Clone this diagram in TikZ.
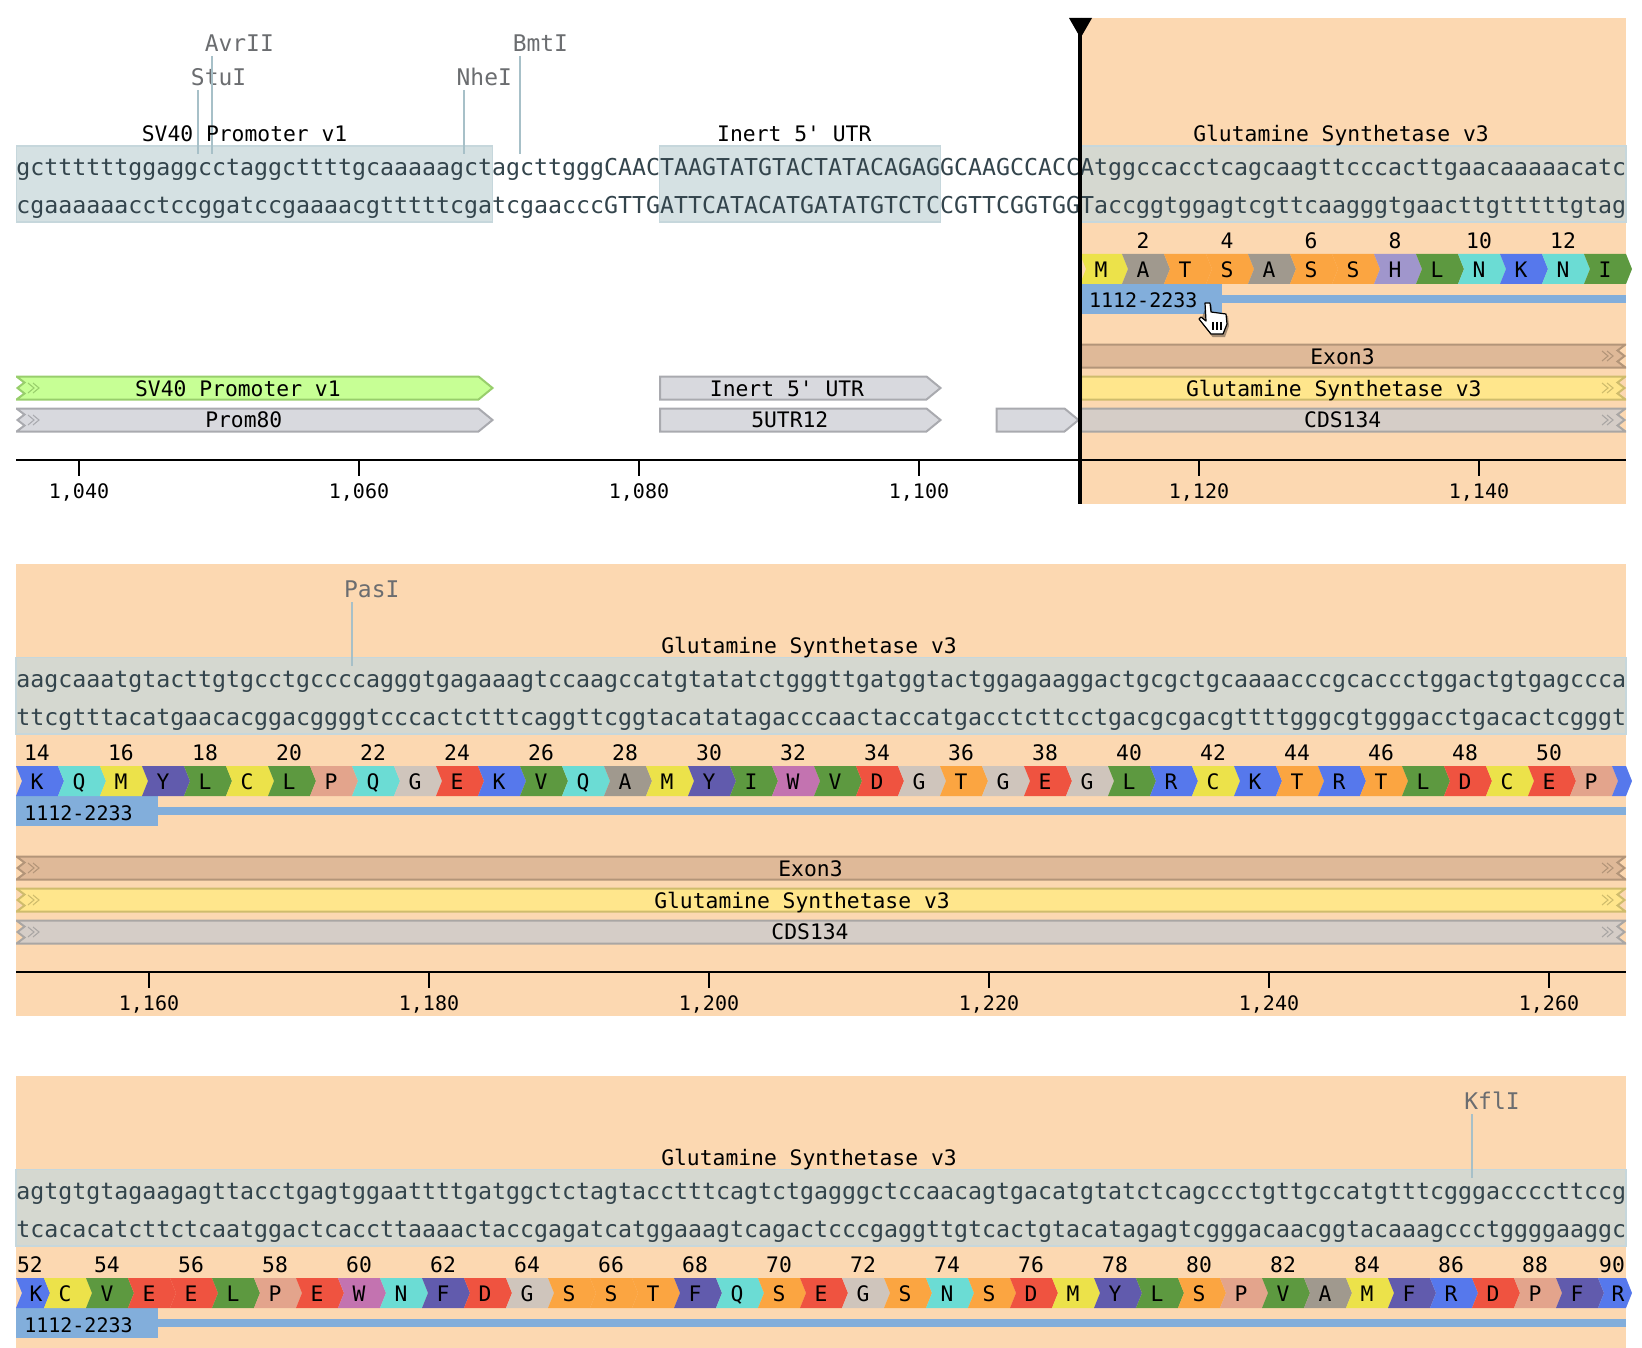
\documentclass[tikz,border=0pt]{standalone}
\usepackage{fontspec}
\usetikzlibrary{positioning}
\newfontfamily\dnafont{DejaVu Sans Mono}
\definecolor{mypeach}{HTML}{FCD8B1}
\definecolor{myboxw}{HTML}{D5E1E3}
\definecolor{myboxp}{HTML}{D5D8D0}
\definecolor{myboxline}{HTML}{C6D7DC}
\definecolor{mysite}{HTML}{A7C0C8}
\definecolor{myseq}{HTML}{33444C}
\definecolor{myenz}{HTML}{6B6D70}
\definecolor{myrange}{HTML}{82AEDB}
\definecolor{aaM}{HTML}{ECE24A}
\definecolor{aaC}{HTML}{ECE24A}
\definecolor{aaA}{HTML}{A0998E}
\definecolor{aaT}{HTML}{FBA541}
\definecolor{aaS}{HTML}{FBA541}
\definecolor{aaH}{HTML}{A096CC}
\definecolor{aaL}{HTML}{5D9940}
\definecolor{aaV}{HTML}{5D9940}
\definecolor{aaI}{HTML}{5D9940}
\definecolor{aaN}{HTML}{6BDCD4}
\definecolor{aaQ}{HTML}{6BDCD4}
\definecolor{aaK}{HTML}{5678EC}
\definecolor{aaR}{HTML}{5678EC}
\definecolor{aaY}{HTML}{615BAD}
\definecolor{aaF}{HTML}{615BAD}
\definecolor{aaP}{HTML}{E3A48C}
\definecolor{aaG}{HTML}{CFC5BC}
\definecolor{aaE}{HTML}{EF5340}
\definecolor{aaD}{HTML}{EF5340}
\definecolor{aaW}{HTML}{C373B0}
\tikzset{
  seqtext/.style={font=\dnafont\fontsize{17.44}{20}\selectfont, text=myseq, inner sep=0pt, anchor=base west},
  lbltext/.style={font=\dnafont\fontsize{16}{20}\selectfont, text=black, inner sep=0pt, anchor=base},
  enztext/.style={font=\dnafont\fontsize{17.2}{20}\selectfont, text=myenz, inner sep=0pt, anchor=base},
  ticktext/.style={font=\dnafont\fontsize{15}{18}\selectfont, text=black, inner sep=0pt, anchor=base},
  rangetext/.style={font=\dnafont\fontsize{15}{18}\selectfont, text=black, inner sep=0pt, anchor=base west},
  siteline/.style={draw=mysite, line width=1.1pt},
  axisline/.style={draw=black, line width=1.5pt},
  seqboxw/.style={draw=myboxline, fill=myboxw, line width=1.1pt},
  seqboxp/.style={draw=myboxline, fill=myboxp, line width=1.1pt},
  featgreen/.style={draw=featgreenl, fill=featgreenf, line width=1.5pt},
  featgray/.style={draw=featgrayl, fill=featgrayf, line width=1.5pt},
  featexon/.style={draw=featexonl, fill=featexonf, line width=1.5pt},
  featgln/.style={draw=featglnl, fill=featglnf, line width=1.5pt},
  featcds/.style={draw=featcdsl, fill=featcdsf, line width=1.5pt},
}
\definecolor{featgreenf}{HTML}{C7FF95}
\definecolor{featgreenl}{HTML}{98CE6C}
\definecolor{featgrayf}{HTML}{D8D9DE}
\definecolor{featgrayl}{HTML}{A9AAAF}
\definecolor{featexonf}{HTML}{DFB998}
\definecolor{featexonl}{HTML}{B39579}
\definecolor{featglnf}{HTML}{FFE68C}
\definecolor{featglnl}{HTML}{CFBC6C}
\definecolor{featcdsf}{HTML}{D5CDC7}
\definecolor{featcdsl}{HTML}{A9A6A4}

% one amino acid row: first residue, left edge, top, letters
\newcommand{\aarow}[4]{
  \foreach \res [count=\k from 0] in {#4} {
    \pgfmathsetmacro{\xa}{#2+42*\k}
    \pgfmathtruncatemacro{\num}{#1+\k}
    \path[fill=aa\res] (\xa,#3) -- (\xa+42,#3) -- (\xa+48,#3+15) -- (\xa+42,#3+30) -- (\xa,#3+30) -- (\xa+6,#3+15) -- cycle;
    \node[lbltext] (aa\num) at (\xa+21,#3+23.3) {\res};
    \ifodd\num\else\node[lbltext] (num\num) at (\xa+21,#3-5.7) {\num};\fi
  }
}
% two small chevrons: left end, middle, colour
\newcommand{\chevrons}[3]{
  \draw[#3, line width=0.8pt] (#1,#2-5) -- (#1+6,#2) -- (#1,#2+5);
  \draw[#3, line width=0.8pt] (#1+5,#2-5) -- (#1+11,#2) -- (#1+5,#2+5);
}
% feature bars: style, left, right, top
\newcommand{\featzigtip}[4]{
  \draw[#1] (#2,#4) -- (#3-14,#4) -- (#3,#4+11.5) -- (#3-14,#4+23) -- (#2,#4+23) -- (#2+8,#4+17) -- (#2+1,#4+11.5) -- (#2+8,#4+6) -- cycle;
}
\newcommand{\featflattip}[4]{
  \draw[#1] (#2,#4) -- (#3-14,#4) -- (#3,#4+11.5) -- (#3-14,#4+23) -- (#2,#4+23) -- cycle;
}
\newcommand{\featflatzig}[4]{
  \draw[#1] (#2,#4) -- (#3,#4) -- (#3-8,#4+6) -- (#3-1,#4+11.5) -- (#3-8,#4+17) -- (#3,#4+23) -- (#2,#4+23) -- cycle;
}
\newcommand{\featzigzig}[4]{
  \draw[#1] (#2,#4) -- (#3,#4) -- (#3-8,#4+6) -- (#3-1,#4+11.5) -- (#3-8,#4+17) -- (#3,#4+23) -- (#2,#4+23) -- (#2+8,#4+17) -- (#2+1,#4+11.5) -- (#2+8,#4+6) -- cycle;
}

\begin{document}
\begin{tikzpicture}[x=0.75pt, y=-0.75pt]
\useasboundingbox (0,0) rectangle (1642,1348);

% Peach selection
\fill[mypeach] (1081,18) rectangle (1626,503.5);
\fill[mypeach] (16,564) rectangle (1626,1015.5);
\fill[mypeach] (16,1075.5) rectangle (1626,1348);

% Row 1 sequence boxes
\draw[seqboxw] (16.5,146) rectangle (492.5,222);
\draw[seqboxw] (659.5,146) rectangle (940.5,222);
\draw[seqboxp] (1081,146) rectangle (1626,222);

% Row 1 sequence
\node[seqtext] (top1) at (16,175.7) {gcttttttggaggcctaggcttttgcaaaaagctagcttgggCAACTAAGTATGTACTATACAGAGGCAAGCCACCAtggccacctcagcaagttcccacttgaacaaaaacatc};
\node[seqtext] (bot1) at (16,213.5) {cgaaaaaacctccggatccgaaaacgtttttcgatcgaacccGTTGATTCATACATGATATGTCTCCGTTCGGTGGTaccggtggagtcgttcaagggtgaacttgtttttgtag};

% Row 1 enzymes
\node[enztext] (avrii) at (239.3,51.5) {AvrII};
\node[enztext] (stui) at (218.6,85.5) {StuI};
\node[enztext] (nhei) at (484.3,85.5) {NheI};
\node[enztext] (bmti) at (540.4,51.5) {BmtI};
\coordinate (stuitop) at (198,90);
\coordinate (stuibot) at (198,153.7);
\coordinate (avriitop) at (212,56);
\coordinate (avriibot) at (212,153.7);
\coordinate (nheitop) at (464,90);
\coordinate (nheibot) at (464,153.7);
\coordinate (bmtitop) at (520,56);
\coordinate (bmtibot) at (520,153.7);
\draw[siteline] (stuitop) -- (stuibot);
\draw[siteline] (avriitop) -- (avriibot);
\draw[siteline] (nheitop) -- (nheibot);
\draw[siteline] (bmtitop) -- (bmtibot);

% Row 1 box titles
\node[lbltext] (sv40title) at (244.6,141.7) {SV40 Promoter v1};
\node[lbltext] (inerttitle) at (794.3,141.7) {Inert 5' UTR};
\node[lbltext] (glntitle1) at (1341,141.7) {Glutamine Synthetase v3};

% Row 1 translation
\fill[myrange] (1081,283.7) rectangle (1221.6,314);
\fill[myrange] (1221,295) rectangle (1626,303);
\node[rangetext] (range1) at (1088.8,308) {1112-2233};
\aarow{1}{1080}{254}{M,A,T,S,A,S,S,H,L,N,K,N,I}

% Row 1 features
\begin{scope}
\clip (16,330) rectangle (1626,440);
\featzigtip{featgreen}{16.5}{492.5}{376.5}
\chevrons{28}{388}{featgreenl}
\node[lbltext] (sv40feat) at (237.9,396) {SV40 Promoter v1};
\featzigtip{featgray}{16.5}{492.5}{408.5}
\chevrons{28}{420}{featgrayl}
\node[lbltext] (prom80) at (243.8,427.7) {Prom80};
\featflattip{featgray}{660}{940.5}{376.5}
\node[lbltext] (inertfeat) at (787,396) {Inert 5' UTR};
\featflattip{featgray}{660}{940.5}{408.5}
\node[lbltext] (utr12) at (789.8,427.7) {5UTR12};
\featflattip{featgray}{996.5}{1078.5}{408.5}
\featflatzig{featexon}{1081}{1625.5}{344.5}
\chevrons{1602}{356}{featexonl}
\node[lbltext] (exon1) at (1342.5,364) {Exon3};
\featflatzig{featgln}{1081}{1625.5}{376.5}
\chevrons{1602}{388}{featglnl}
\node[lbltext] (glnfeat1) at (1333.8,396) {Glutamine Synthetase v3};
\featflatzig{featcds}{1081}{1625.5}{408.5}
\chevrons{1602}{420}{featcdsl}
\node[lbltext] (cds1) at (1342.7,427.7) {CDS134};
\end{scope}

% Row 1 axis
\coordinate (axisa1) at (16,460);
\coordinate (axisb1) at (1626,460);
\draw[axisline] (axisa1) -- (axisb1);
\foreach \lab/\xt in {{1,040}/79,{1,060}/359,{1,080}/639,{1,100}/919,{1,120}/1199,{1,140}/1479} {
  \draw[axisline] (\xt,460) -- (\xt,475.7);
  \node[ticktext] (tick\xt) at (\xt,498.5) {\lab};
}

% Cursor
\coordinate (cursortop) at (1080,18);
\coordinate (cursorbot) at (1080,503.5);
\draw[black, line width=2.3pt] (cursortop) -- (cursorbot);
\fill[black] (1069,18) -- (1092,18) -- (1080.5,38) -- cycle;

% Hand pointer
\fill[black, opacity=0.35] (1206.5,305) -- (1211.5,305) -- (1212.5,314) -- (1228,316) -- (1229,326) -- (1225,337) -- (1212.5,337) -- (1200.5,321.5) -- cycle;
\draw[black, fill=white, line width=0.9pt, line join=round] (1205,303) -- (1210,303) -- (1211,312) -- (1226,314) -- (1227,324) -- (1223,334) -- (1211,334) -- (1199,319) -- (1201,317) -- (1206,321) -- cycle;
\draw[black, line width=0.9pt] (1213,322) -- (1213,330);
\draw[black, line width=0.9pt] (1217,322) -- (1217,330);
\draw[black, line width=0.9pt] (1221,322) -- (1221,330);

% Row 2 sequence
\draw[seqboxp] (16,657.7) rectangle (1626,734.2);
\node[seqtext] (top2) at (16,687.7) {aagcaaatgtacttgtgcctgccccagggtgagaaagtccaagccatgtatatctgggttgatggtactggagaaggactgcgctgcaaaacccgcaccctggactgtgagccca};
\node[seqtext] (bot2) at (16,725.5) {ttcgtttacatgaacacggacggggtcccactctttcaggttcggtacatatagacccaactaccatgacctcttcctgacgcgacgttttgggcgtgggacctgacactcgggt};
\node[enztext] (pasi) at (371.8,597.5) {PasI};
\coordinate (pasitop) at (352,602);
\coordinate (pasibot) at (352,665.7);
\draw[siteline] (pasitop) -- (pasibot);
\node[lbltext] (glntitle2) at (809,653.7) {Glutamine Synthetase v3};

% Row 2 translation
\fill[myrange] (16,795.7) rectangle (158,826);
\fill[myrange] (158,807) rectangle (1626,815);
\node[rangetext] (range2) at (24,820) {1112-2233};
\aarow{14}{16}{766}{K,Q,M,Y,L,C,L,P,Q,G,E,K,V,Q,A,M,Y,I,W,V,D,G,T,G,E,G,L,R,C,K,T,R,T,L,D,C,E,P}
\path[fill=aaK] (1612,766) -- (1626,766) -- (1632,781) -- (1626,796) -- (1612,796) -- (1618,781) -- cycle;

% Row 2 features
\begin{scope}
\clip (16,840) rectangle (1626,950);
\featzigzig{featexon}{16.5}{1625.5}{856.5}
\chevrons{28}{868}{featexonl}
\chevrons{1602}{868}{featexonl}
\node[lbltext] (exon2) at (810.5,876) {Exon3};
\featzigzig{featgln}{16.5}{1625.5}{888.5}
\chevrons{28}{900}{featglnl}
\chevrons{1602}{900}{featglnl}
\node[lbltext] (glnfeat2) at (802,908) {Glutamine Synthetase v3};
\featzigzig{featcds}{16.5}{1625.5}{920.5}
\chevrons{28}{932}{featcdsl}
\chevrons{1602}{932}{featcdsl}
\node[lbltext] (cds2) at (810,939.7) {CDS134};
\end{scope}

% Row 2 axis
\coordinate (axisa2) at (16,972);
\coordinate (axisb2) at (1626,972);
\draw[axisline] (axisa2) -- (axisb2);
\foreach \lab/\xt in {{1,160}/149,{1,180}/429,{1,200}/709,{1,220}/989,{1,240}/1269,{1,260}/1549} {
  \draw[axisline] (\xt,972) -- (\xt,987.7);
  \node[ticktext] (tick\xt b) at (\xt,1010.5) {\lab};
}

% Row 3 sequence
\draw[seqboxp] (16,1169.7) rectangle (1626,1246.2);
\node[seqtext] (top3) at (16,1199.7) {agtgtgtagaagagttacctgagtggaattttgatggctctagtacctttcagtctgagggctccaacagtgacatgtatctcagccctgttgccatgtttcgggaccccttccg};
\node[seqtext] (bot3) at (16,1237.5) {tcacacatcttctcaatggactcaccttaaaactaccgagatcatggaaagtcagactcccgaggttgtcactgtacatagagtcgggacaacggtacaaagccctggggaaggc};
\node[enztext] (kfli) at (1492,1109.5) {KflI};
\coordinate (kflitop) at (1472,1114);
\coordinate (kflibot) at (1472,1177.7);
\draw[siteline] (kflitop) -- (kflibot);
\node[lbltext] (glntitle3) at (809,1165.7) {Glutamine Synthetase v3};

% Row 3 translation
\fill[myrange] (16,1307.7) rectangle (158,1338);
\fill[myrange] (158,1319) rectangle (1626,1327);
\node[rangetext] (range3) at (24,1332) {1112-2233};
\path[fill=aaK] (16,1278) -- (44,1278) -- (50,1293) -- (44,1308) -- (16,1308) -- (22,1293) -- cycle;
\node[lbltext] (aa52) at (36,1301.3) {K};
\node[lbltext] (num52) at (30,1272.3) {52};
\aarow{53}{44}{1278}{C,V,E,E,L,P,E,W,N,F,D,G,S,S,T,F,Q,S,E,G,S,N,S,D,M,Y,L,S,P,V,A,M,F,R,D,P,F}
\path[fill=aaR] (1598,1278) -- (1626,1278) -- (1632,1293) -- (1626,1308) -- (1598,1308) -- (1604,1293) -- cycle;
\node[lbltext] (aa90) at (1618,1301.3) {R};
\node[lbltext] (num90) at (1612,1272.3) {90};

\end{tikzpicture}
\end{document}
